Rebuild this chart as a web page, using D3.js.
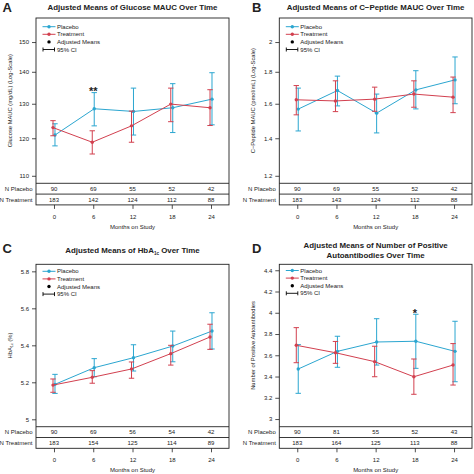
<!DOCTYPE html>
<html>
<head>
<meta charset="utf-8">
<script src="https://cdn.jsdelivr.net/npm/d3@7"></script>
<style>
  body { margin: 0; background: #fff; }
  text { font-family: "Liberation Sans", Arial, Helvetica, sans-serif; }
</style>
</head>
<body>
<svg id="chart" width="474" height="474"></svg>
<script>
// months on study (x)
const months = [0, 6, 12, 18, 24];

// A: glucose MAUC (mg/dL), log scale
const glucoseTicks = [110, 120, 130, 140, 150];
const glucosePlacebo = [120.9, 128.5, 127.7, 128.8, 131.4];
const glucosePlaceboCI = [[117.9, 124.1], [123.5, 133.4], [120.9, 134.8], [121.6, 136.2], [123.8, 139.7]];
const glucoseTreatment = [123.0, 118.9, 123.5, 129.9, 128.8];
const glucoseTreatmentCI = [[120.7, 125.0], [115.7, 122.1], [118.9, 127.8], [124.7, 134.8], [123.6, 134.3]];
const glucoseNPlacebo = [90, 69, 55, 52, 42];
const glucoseNTreatment = [183, 142, 124, 112, 88];

// B: C-peptide MAUC (pmol/mL), log(x + 1) scale
const cpepTicks = [1.2, 1.4, 1.6, 1.8, 2];
const cpepPlacebo = [1.568, 1.681, 1.544, 1.685, 1.748];
const cpepPlaceboCI = [[1.441, 1.696], [1.587, 1.772], [1.43, 1.659], [1.569, 1.807], [1.60, 1.898]];
const cpepTreatment = [1.624, 1.617, 1.628, 1.659, 1.64];
const cpepTreatmentCI = [[1.534, 1.712], [1.553, 1.742], [1.555, 1.702], [1.579, 1.742], [1.547, 1.766]];
const cpepNPlacebo = [90, 69, 55, 52, 42];
const cpepNTreatment = [183, 143, 124, 112, 88];

// C: HbA1c (%)
const hbaTicks = [5, 5.2, 5.4, 5.6, 5.8];
const hbaPlacebo = [5.189, 5.279, 5.333, 5.396, 5.477];
const hbaPlaceboCI = [[5.14, 5.243], [5.23, 5.328], [5.261, 5.403], [5.311, 5.477], [5.38, 5.576]];
const hbaTreatment = [5.185, 5.227, 5.272, 5.355, 5.445];
const hbaTreatmentCI = [[5.146, 5.218], [5.195, 5.263], [5.222, 5.31], [5.293, 5.40], [5.378, 5.514]];
const hbaNPlacebo = [90, 69, 56, 54, 42];
const hbaNTreatment = [183, 154, 125, 114, 89];

// D: number of positive autoantibodies
const aabTicks = [3, 3.2, 3.4, 3.6, 3.8, 4, 4.2, 4.4];
const aabPlacebo = [3.471, 3.637, 3.725, 3.732, 3.637];
const aabPlaceboCI = [[3.242, 3.70], [3.487, 3.779], [3.508, 3.944], [3.477, 3.986], [3.351, 3.92]];
const aabTreatment = [3.694, 3.624, 3.54, 3.398, 3.508];
const aabTreatmentCI = [[3.53, 3.86], [3.524, 3.73], [3.398, 3.685], [3.233, 3.565], [3.32, 3.71]];
const aabNPlacebo = [90, 81, 55, 52, 43];
const aabNTreatment = [183, 164, 125, 113, 88];

const BLUE = '#2ba6d0';
const RED = '#d2404f';
const INK = '#222';
const svg = d3.select('#chart');

function addText(g, x, y, str, size, anchor, weight) {
  return g.append('text')
    .attr('x', x).attr('y', y)
    .attr('font-size', size + 'px')
    .attr('text-anchor', anchor || 'start')
    .attr('font-weight', weight || 'normal')
    .attr('fill', INK)
    .text(str);
}

function drawPanel(p) {
  const g = svg.append('g');
  const rowH = 10.8;
  const tableBottom = p.bottom + 2 * rowH;
  const x = d3.scaleLinear().domain([-2.75, 26.75]).range([p.left, p.right]);
  const off = p.offset || 0;   // log(x + 1) for C-peptide
  const yPos = v => p.y(v + off);

  // panel letter and title
  addText(g, p.letterX, p.letterY, p.letter, 13, 'start', 'bold');
  const cx = (p.left + p.right) / 2;
  p.title.forEach((line, i) => {
    const t = addText(g, cx, p.titleY + i * 10, '', 7.9, 'middle', 'bold');
    line.forEach(seg => {
      const ts = t.append('tspan').text(seg.t);
      if (seg.sub) ts.attr('font-size', '4.6px').attr('baseline-shift', '-1.5px');
    });
  });

  // y axis
  const yAxis = g.append('g')
    .attr('transform', `translate(${p.left},0)`)
    .call(d3.axisLeft(p.y)
      .tickValues(p.ticks.map(t => t + off))
      .tickSize(4).tickPadding(3)
      .tickFormat(d => +(d - off).toFixed(1)));
  yAxis.select('.domain').remove();
  yAxis.selectAll('line').attr('stroke', INK).attr('stroke-width', 0.8);
  yAxis.selectAll('text').attr('font-size', '6px').attr('fill', INK)
    .attr('font-family', null);

  // y label
  const yl = g.append('text')
    .attr('transform', `translate(${p.left - 24.5},${(p.top + p.bottom) / 2}) rotate(-90)`)
    .attr('font-size', '5.8px').attr('text-anchor', 'middle').attr('fill', INK);
  p.ylabel.forEach(seg => {
    const ts = yl.append('tspan').text(seg.t);
    if (seg.sub) ts.attr('font-size', '3.8px').attr('baseline-shift', '-1.2px');
  });

  // x axis under the table
  const xAxis = g.append('g')
    .attr('transform', `translate(0,${tableBottom})`)
    .call(d3.axisBottom(x).tickValues(months).tickSize(4).tickPadding(5.7));
  xAxis.select('.domain').remove();
  xAxis.selectAll('line').attr('stroke', INK).attr('stroke-width', 0.8);
  xAxis.selectAll('text').attr('font-size', '6px').attr('fill', INK)
    .attr('font-family', null);
  addText(g, cx, tableBottom + 24, 'Months on Study', 6, 'middle');

  // box and N table
  g.append('rect')
    .attr('x', p.left).attr('y', p.top)
    .attr('width', p.right - p.left).attr('height', tableBottom - p.top)
    .attr('fill', 'none').attr('stroke', INK).attr('stroke-width', 0.9);
  [p.bottom, p.bottom + rowH].forEach(yy => {
    g.append('line')
      .attr('x1', p.left).attr('x2', p.right).attr('y1', yy).attr('y2', yy)
      .attr('stroke', INK).attr('stroke-width', 0.9);
  });
  const rows = [['N Placebo', p.nPlacebo], ['N Treatment', p.nTreatment]];
  rows.forEach(([label, ns], i) => {
    const yy = p.bottom + rowH * i + rowH / 2 + 2.1;
    addText(g, p.left - 3.5, yy, label, 6, 'end');
    ns.forEach((n, j) => addText(g, x(months[j]), yy, n, 6, 'middle'));
  });

  // series: placebo first, treatment on top
  const series = [
    {mean: p.placebo, ci: p.placeboCI, color: BLUE, dx: 0.15},
    {mean: p.treatment, ci: p.treatmentCI, color: RED, dx: -0.15},
  ];
  series.forEach(s => {
    const sg = g.append('g');
    const px = i => x(months[i] + s.dx);
    s.ci.forEach(([lo, hi], i) => {
      sg.append('line')
        .attr('x1', px(i)).attr('x2', px(i))
        .attr('y1', yPos(lo)).attr('y2', yPos(hi))
        .attr('stroke', s.color).attr('stroke-width', 1);
      [lo, hi].forEach(v => {
        sg.append('line')
          .attr('x1', px(i) - 2.7).attr('x2', px(i) + 2.7)
          .attr('y1', yPos(v)).attr('y2', yPos(v))
          .attr('stroke', s.color).attr('stroke-width', 1);
      });
    });
    const line = d3.line().x((d, i) => px(i)).y(d => yPos(d));
    sg.append('path').attr('d', line(s.mean))
      .attr('fill', 'none').attr('stroke', s.color).attr('stroke-width', 1);
    sg.selectAll('circle').data(s.mean).join('circle')
      .attr('cx', (d, i) => px(i)).attr('cy', d => yPos(d)).attr('r', 1.7)
      .attr('fill', s.color);
  });

  // significance marks above the placebo CI
  (p.stars || []).forEach(st => {
    const i = months.indexOf(st.month);
    addText(g, x(st.month), yPos(p.placeboCI[i][1]) + 2.5, st.mark, 11, 'middle', 'bold');
  });

  // legend
  const lx = p.left + 6.5;
  const items = [
    {label: 'Placebo', color: BLUE, kind: 'line'},
    {label: 'Treatment', color: RED, kind: 'line'},
    {label: 'Adjusted Means', color: '#000', kind: 'dot'},
    {label: '95% CI', color: '#000', kind: 'ci'},
  ];
  items.forEach((it, i) => {
    const ly = p.legendY + i * 7.6;
    if (it.kind === 'line') {
      g.append('line').attr('x1', lx).attr('x2', lx + 13).attr('y1', ly).attr('y2', ly)
        .attr('stroke', it.color).attr('stroke-width', 1);
    }
    if (it.kind !== 'ci') {
      g.append('circle').attr('cx', lx + 6.5).attr('cy', ly).attr('r', 1.7).attr('fill', it.color);
    } else {
      g.append('path')
        .attr('d', `M${lx + 0.5},${ly - 2}V${ly + 2}M${lx + 0.5},${ly}H${lx + 12}M${lx + 12},${ly - 2}V${ly + 2}`)
        .attr('fill', 'none').attr('stroke', it.color).attr('stroke-width', 0.9);
    }
    addText(g, lx + 14.5, ly + 2.1, it.label, 6, 'start');
  });
}

const topRow = {top: 18, bottom: 183.3};
const botRow = {top: 264.3, bottom: 426.7};
const leftCol = {left: 36, right: 229, letterX: 2.5};
const rightCol = {left: 279.3, right: 472, letterX: 252};

drawPanel(Object.assign({}, topRow, leftCol, {
  letter: 'A', letterY: 11.8, titleY: 9.5,
  title: [[{t: 'Adjusted Means of Glucose MAUC Over Time'}]],
  ylabel: [{t: 'Glucose MAUC (mg/dL) (Log-Scale)'}],
  y: d3.scaleLog().domain([108.1, 158.6]).range([topRow.bottom, topRow.top]),
  ticks: glucoseTicks,
  placebo: glucosePlacebo, placeboCI: glucosePlaceboCI,
  treatment: glucoseTreatment, treatmentCI: glucoseTreatmentCI,
  nPlacebo: glucoseNPlacebo, nTreatment: glucoseNTreatment,
  legendY: 26.7, stars: [{month: 6, mark: '**'}],
}));

drawPanel(Object.assign({}, topRow, rightCol, {
  letter: 'B', letterY: 11.8, titleY: 9.5,
  title: [[{t: 'Adjusted Means of C\u2212Peptide MAUC Over Time'}]],
  ylabel: [{t: 'C\u2212Peptide MAUC (pmol/mL) (Log-Scale)'}],
  y: d3.scaleLog().domain([2.162, 3.172]).range([topRow.bottom, topRow.top]),
  offset: 1, ticks: cpepTicks,
  placebo: cpepPlacebo, placeboCI: cpepPlaceboCI,
  treatment: cpepTreatment, treatmentCI: cpepTreatmentCI,
  nPlacebo: cpepNPlacebo, nTreatment: cpepNTreatment,
  legendY: 26.7,
}));

drawPanel(Object.assign({}, botRow, leftCol, {
  letter: 'C', letterY: 253, titleY: 252.5,
  title: [[{t: 'Adjusted Means of HbA'}, {t: '1c', sub: true}, {t: ' Over Time'}]],
  ylabel: [{t: 'HbA'}, {t: '1c', sub: true}, {t: ' (%)'}],
  y: d3.scaleLinear().domain([4.96, 5.838]).range([botRow.bottom, botRow.top]),
  ticks: hbaTicks,
  placebo: hbaPlacebo, placeboCI: hbaPlaceboCI,
  treatment: hbaTreatment, treatmentCI: hbaTreatmentCI,
  nPlacebo: hbaNPlacebo, nTreatment: hbaNTreatment,
  legendY: 271.3,
}));

drawPanel(Object.assign({}, botRow, rightCol, {
  letter: 'D', letterY: 253, titleY: 247.5,
  title: [[{t: 'Adjusted Means of Number of Positive'}], [{t: 'Autoantibodies Over Time'}]],
  ylabel: [{t: 'Number of Positive Autoantibodies'}],
  y: d3.scaleLinear().domain([2.928, 4.456]).range([botRow.bottom, botRow.top]),
  ticks: aabTicks,
  placebo: aabPlacebo, placeboCI: aabPlaceboCI,
  treatment: aabTreatment, treatmentCI: aabTreatmentCI,
  nPlacebo: aabNPlacebo, nTreatment: aabNTreatment,
  legendY: 270.5, stars: [{month: 18, mark: '*'}],
}));
</script>
</body>
</html>
